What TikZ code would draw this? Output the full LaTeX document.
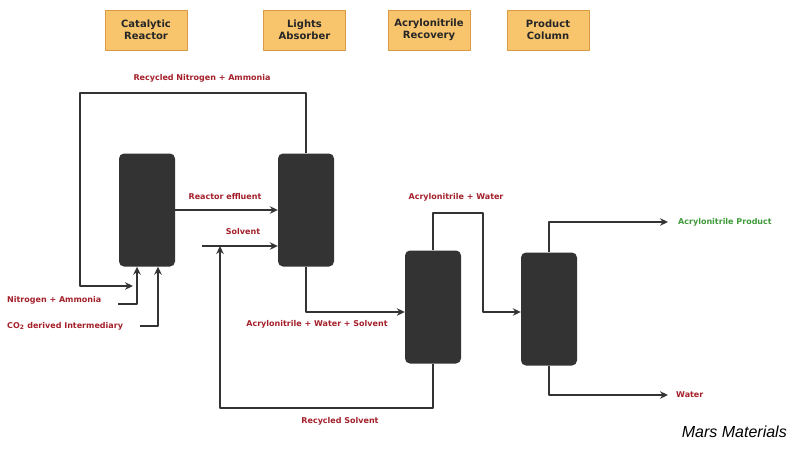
\documentclass[tikz,border=0pt]{standalone}
\usepackage{fontspec}
\usetikzlibrary{arrows.meta}
\setmainfont{DejaVu Sans}
\newfontfamily\marsfont{Liberation Sans}
\definecolor{hdrfill}{HTML}{F8C46C}
\definecolor{hdrline}{HTML}{D99A45}
\definecolor{vesselgray}{HTML}{333333}
\definecolor{lblred}{HTML}{A3202B}
\definecolor{lblgreen}{HTML}{3E9A3A}
\begin{document}
\begin{tikzpicture}[x=1pt,y=-1pt,font=\fontsize{8}{9}\selectfont\bfseries,line join=round,>={Stealth[length=8pt,width=7.5pt]},
	vessel/.style={fill=vesselgray,rounded corners=5pt,minimum width=56pt,minimum height=113pt,inner sep=0pt},
	hdr/.style={draw=hdrline,fill=hdrfill,line width=0.8pt,minimum width=82pt,minimum height=40pt,align=center,text=black!85,font=\fontsize{10}{12}\selectfont\bfseries},
	pipe/.style={draw=vesselgray,line width=1.8pt},
	lbl/.style={text=lblred,inner sep=1pt}]
	\useasboundingbox (0,0) rectangle (800,450);
	% header boxes
	\node[hdr] (hreactor) at (146,30) {Catalytic\\Reactor};
	\node[hdr] (habsorber) at (304.5,30) {Lights\\Absorber};
	\node[hdr] (hrecovery) at (429,30) {Acrylonitrile\\Recovery};
	\node[hdr] (hproduct) at (548,30) {Product\\Column};
	% vessels
	\node[vessel] (reactor) at (147,210) {};
	\node[vessel] (absorber) at (306,210) {};
	\node[vessel] (recovery) at (433,307) {};
	\node[vessel] (product) at (549,309) {};
	% free ends
	\coordinate (n2in) at (118,304);
	\coordinate (co2in) at (140,326);
	\coordinate (rcTL) at (80,93);
	\coordinate (rcEnd) at (133,286);
	\coordinate (solv) at (202,246);
	\coordinate (rsBL) at (220,408);
	\coordinate (acwTR) at (483,213);
	\coordinate (prodout) at (668,222);
	\coordinate (waterout) at (668,395);
	% streams
	\draw[pipe,->] (absorber.north) |- (rcTL) |- (rcEnd);
	\draw[pipe,->] (n2in) -| ([xshift=-10pt]reactor.south);
	\draw[pipe,->] (co2in) -| ([xshift=11pt]reactor.south);
	\draw[pipe,->] (reactor.east) -- (absorber.west);
	\draw[pipe,->] (solv) -- (solv -| absorber.west);
	\draw[pipe,->] (recovery.south) |- (rsBL) -- (rsBL |- solv);
	\draw[pipe,->] (absorber.south) |- ([yshift=-5pt]recovery.west);
	\draw[pipe,->] (recovery.north) |- (acwTR) |- ([yshift=-3pt]product.west);
	\draw[pipe,->] (product.north) |- (prodout);
	\draw[pipe,->] (product.south) |- (waterout);
	% labels
	\node[lbl] (lrecn2) at (202,78) {Recycled Nitrogen + Ammonia};
	\node[lbl] (leff) at (225,197) {Reactor effluent};
	\node[lbl] (lsolv) at (243,232) {Solvent};
	\node[lbl,anchor=west] (ln2) at (6,300) {Nitrogen + Ammonia};
	\node[lbl,anchor=west] (lco2) at (6,326) {CO\textsubscript{2} derived Intermediary};
	\node[lbl] (lacws) at (317,324) {Acrylonitrile + Water + Solvent};
	\node[lbl] (lacw) at (456,197) {Acrylonitrile + Water};
	\node[lbl] (lrecsolv) at (340,421) {Recycled Solvent};
	\node[lbl,text=lblgreen,anchor=west] (lprod) at (677,222) {Acrylonitrile Product};
	\node[lbl,anchor=west] (lwater) at (675,395) {Water};
	\node[anchor=east,inner sep=0pt,font=\marsfont\itshape\fontsize{16}{18}\selectfont] (mars) at (787,432) {Mars Materials};
\end{tikzpicture}
\end{document}
